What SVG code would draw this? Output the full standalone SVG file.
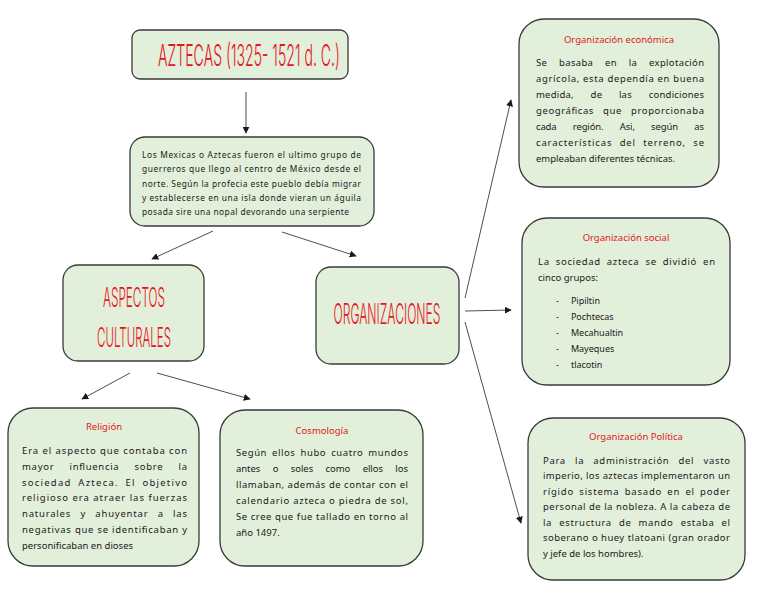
<svg xmlns="http://www.w3.org/2000/svg" width="768" height="594" viewBox="0 0 768 594">
<defs>
<marker id="ah" viewBox="0 0 10 10" refX="9" refY="5" markerWidth="7" markerHeight="7" orient="auto" markerUnits="userSpaceOnUse">
<path d="M0,0 L10,5 L0,10 z" fill="#1a1a1a"/>
</marker>
<style>
.box{fill:#e2efda;stroke:#3a3a3a;stroke-width:1.3}
.big{font-family:Inter,"Liberation Sans",Arial,sans-serif;font-weight:300;fill:#e8141c;text-anchor:middle}
.hd{font-family:"Noto Sans","DejaVu Sans",sans-serif;font-size:9.5px;fill:#e02020;text-anchor:middle}
.tx{font-family:"Noto Sans","DejaVu Sans",sans-serif;font-size:9.5px;fill:#1a1a1a}
.bl{font-family:"Noto Sans","DejaVu Sans",sans-serif;font-size:9px;fill:#1a1a1a}
.sm{font-family:"Noto Sans","DejaVu Sans",sans-serif;font-size:8.4px;fill:#1a1a1a}
.cn{stroke:#3a3a3a;stroke-width:0.9;fill:none}
</style>
</defs>
<rect width="768" height="594" fill="#ffffff"/>

<g id="connectors">
<line class="cn" x1="246" y1="92" x2="246" y2="133" marker-end="url(#ah)"/>
<line class="cn" x1="213" y1="231" x2="152" y2="259" marker-end="url(#ah)"/>
<line class="cn" x1="282" y1="232" x2="356" y2="256" marker-end="url(#ah)"/>
<line class="cn" x1="130" y1="373" x2="82" y2="399" marker-end="url(#ah)"/>
<line class="cn" x1="157" y1="373" x2="250" y2="399" marker-end="url(#ah)"/>
<line class="cn" x1="465" y1="298" x2="511" y2="100" marker-end="url(#ah)"/>
<line class="cn" x1="465" y1="311" x2="511" y2="310" marker-end="url(#ah)"/>
<line class="cn" x1="465" y1="322" x2="521" y2="523" marker-end="url(#ah)"/>
</g>

<g id="titulo">
<rect class="box" x="132" y="30" width="216" height="49" rx="8"/>
<text class="big" x="249" y="66" font-size="30" textLength="182" lengthAdjust="spacingAndGlyphs">AZTECAS (1325- 1521 d. C.)</text>
</g>

<g id="intro">
<rect class="box" x="130" y="137" width="244" height="89" rx="15"/>
<text class="sm" x="142" y="158" textLength="219" lengthAdjust="spacing">Los Mexicas o Aztecas fueron el ultimo grupo de</text>
<text class="sm" x="142" y="172" textLength="219" lengthAdjust="spacing">guerreros que llego al centro de México desde el</text>
<text class="sm" x="142" y="187" textLength="219" lengthAdjust="spacing">norte. Según la profecia este pueblo debía migrar</text>
<text class="sm" x="142" y="201" textLength="219" lengthAdjust="spacing">y establecerse en una isla donde vieran un águila</text>
<text class="sm" x="142" y="215" textLength="207" lengthAdjust="spacing">posada sire una nopal devorando una serpiente</text>
</g>

<g id="aspectos">
<rect class="box" x="63" y="265" width="141" height="96" rx="15"/>
<text class="big" x="134" y="307" font-size="27" textLength="62" lengthAdjust="spacingAndGlyphs">ASPECTOS</text>
<text class="big" x="134" y="347" font-size="27" textLength="74" lengthAdjust="spacingAndGlyphs">CULTURALES</text>
</g>

<g id="organizaciones">
<rect class="box" x="316" y="267" width="143" height="97" rx="15"/>
<text class="big" x="387" y="324" font-size="29" textLength="107" lengthAdjust="spacingAndGlyphs">ORGANIZACIONES</text>
</g>

<g id="religion">
<rect class="box" x="8" y="408" width="191" height="158" rx="25"/>
<text class="hd" x="104" y="430">Religión</text>
<text class="tx" x="22" y="454" textLength="165" lengthAdjust="spacing">Era el aspecto que contaba con</text>
<text class="tx" x="22" y="470" textLength="165" lengthAdjust="spacing" word-spacing="12">mayor influencia sobre la</text>
<text class="tx" x="22" y="486" textLength="165" lengthAdjust="spacing" word-spacing="3">sociedad Azteca. El objetivo</text>
<text class="tx" x="22" y="501" textLength="165" lengthAdjust="spacing">religioso era atraer las fuerzas</text>
<text class="tx" x="22" y="517" textLength="165" lengthAdjust="spacing" word-spacing="6">naturales y ahuyentar a las</text>
<text class="tx" x="22" y="533" textLength="165" lengthAdjust="spacing">negativas que se identificaban y</text>
<text class="tx" x="22" y="549">personificaban en dioses</text>
</g>

<g id="cosmologia">
<rect class="box" x="220" y="410" width="203" height="156" rx="25"/>
<text class="hd" x="322" y="434">Cosmología</text>
<text class="tx" x="236" y="456" textLength="172" lengthAdjust="spacing" word-spacing="2">Según ellos hubo cuatro mundos</text>
<text class="tx" x="236" y="472" textLength="172" lengthAdjust="spacing" word-spacing="10">antes o soles como ellos los</text>
<text class="tx" x="236" y="488" textLength="172" lengthAdjust="spacing">llamaban, además de contar con el</text>
<text class="tx" x="236" y="504" textLength="172" lengthAdjust="spacing">calendario azteca o piedra de sol,</text>
<text class="tx" x="236" y="520" textLength="172" lengthAdjust="spacing">Se cree que fue tallado en torno al</text>
<text class="tx" x="236" y="536">año 1497.</text>
</g>

<g id="org-economica">
<rect class="box" x="519" y="19" width="200" height="168" rx="25"/>
<text class="hd" x="619" y="43">Organización económica</text>
<text class="tx" x="536" y="66" textLength="168" lengthAdjust="spacing" word-spacing="9">Se basaba en la explotación</text>
<text class="tx" x="536" y="82" textLength="168" lengthAdjust="spacing">agrícola, esta dependía en buena</text>
<text class="tx" x="536" y="98" textLength="168" lengthAdjust="spacing" word-spacing="14">medida, de las condiciones</text>
<text class="tx" x="536" y="114" textLength="168" lengthAdjust="spacing" word-spacing="6">geográficas que proporcionaba</text>
<text class="tx" x="536" y="130" textLength="168" lengthAdjust="spacing" word-spacing="14">cada región. Asi, según as</text>
<text class="tx" x="536" y="146" textLength="168" lengthAdjust="spacing" word-spacing="4">características del terreno, se</text>
<text class="tx" x="536" y="162">empleaban diferentes técnicas.</text>
</g>

<g id="org-social">
<rect class="box" x="522" y="218" width="208" height="167" rx="25"/>
<text class="hd" x="626" y="241">Organización social</text>
<text class="tx" x="538" y="265" textLength="177" lengthAdjust="spacing" word-spacing="3">La sociedad azteca se dividió en</text>
<text class="tx" x="538" y="281">cinco grupos:</text>
<text class="bl" x="556" y="304">-<tspan dx="12">Pipiltin</tspan></text>
<text class="bl" x="556" y="320">-<tspan dx="12">Pochtecas</tspan></text>
<text class="bl" x="556" y="336">-<tspan dx="12">Mecahualtin</tspan></text>
<text class="bl" x="556" y="352">-<tspan dx="12">Mayeques</tspan></text>
<text class="bl" x="556" y="368">-<tspan dx="12">tlacotin</tspan></text>
</g>

<g id="org-politica">
<rect class="box" x="528" y="418" width="217" height="162" rx="25"/>
<text class="hd" x="636" y="440">Organización Política</text>
<text class="tx" x="543" y="464" textLength="187" lengthAdjust="spacing" word-spacing="6">Para la administración del vasto</text>
<text class="tx" x="543" y="479" textLength="187" lengthAdjust="spacing">imperio, los aztecas implementaron un</text>
<text class="tx" x="543" y="495" textLength="187" lengthAdjust="spacing" word-spacing="2">rígido sistema basado en el poder</text>
<text class="tx" x="543" y="510" textLength="187" lengthAdjust="spacing">personal de la nobleza. A la cabeza de</text>
<text class="tx" x="543" y="526" textLength="187" lengthAdjust="spacing" word-spacing="4">la estructura de mando estaba el</text>
<text class="tx" x="543" y="541" textLength="187" lengthAdjust="spacing">soberano o huey tlatoani (gran orador</text>
<text class="tx" x="543" y="557">y jefe de los hombres).</text>
</g>
</svg>
